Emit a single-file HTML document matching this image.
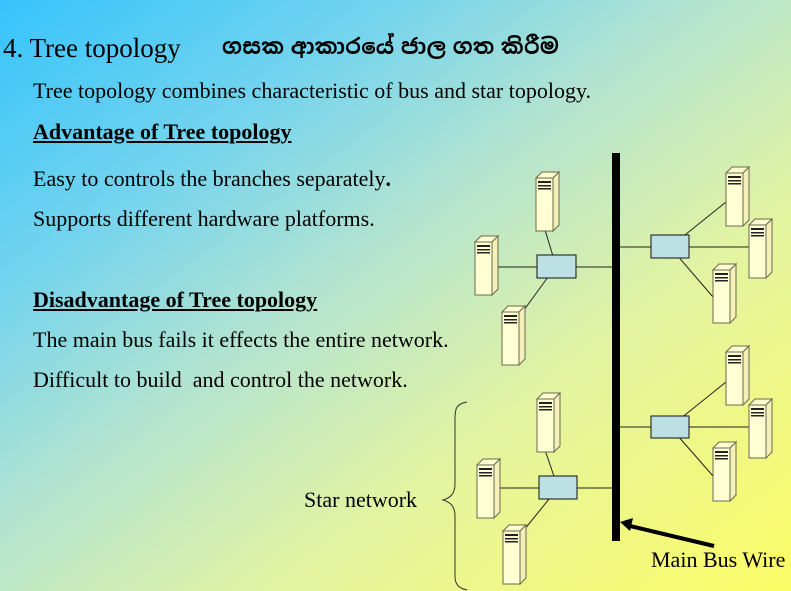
<!DOCTYPE html>
<html><head><meta charset="utf-8"><style>
html,body{margin:0;padding:0}
body{width:791px;height:591px;overflow:hidden;position:relative;background:linear-gradient(to bottom right,#36c4fc 0%,#74d4ee 25%,#b4e4d0 45%,#e4f4a0 68%,#fcfc66 100%);font-family:"Liberation Serif",serif;color:#000}
.t{position:absolute;white-space:nowrap;font-size:22px;line-height:1}
.u{font-weight:bold;text-decoration:underline}
svg{position:absolute;left:0;top:0}
</style></head><body>
<div class="t" style="left:3px;top:35px;font-size:27px">4. Tree topology</div>
<div class="t" style="left:222px;top:37px;font-size:21.5px;font-weight:bold;letter-spacing:0.4px;font-family:'Liberation Sans','Noto Sans Sinhala',sans-serif">ගසක ආකාරයේ ජාල ගත කිරීම</div>
<div class="t" style="left:33px;top:80px">Tree topology combines characteristic of bus and star topology.</div>
<div class="t u" style="left:33px;top:121px">Advantage of Tree topology</div>
<div class="t" style="left:33px;top:168px">Easy to controls the branches separately<b>.</b></div>
<div class="t" style="left:33px;top:208px">Supports different hardware platforms.</div>
<div class="t u" style="left:33px;top:289px">Disadvantage of Tree topology</div>
<div class="t" style="left:33px;top:329px">The main bus fails it effects the entire network.</div>
<div class="t" style="left:33px;top:369px">Difficult to build&nbsp; and control the network.</div>
<div class="t" style="left:304px;top:489px">Star network</div>
<div class="t" style="left:651px;top:549px">Main Bus Wire</div>
<svg width="791" height="591" viewBox="0 0 791 591">
<defs>
<g id="s">
<polygon points="0,6 6,0 23,0 17,6" fill="#fffcd0" stroke="#6a6a50" stroke-width="1"/>
<polygon points="17,6 23,0 23,53 17,59" fill="#f4f0b8" stroke="#6a6a50" stroke-width="1"/>
<rect x="0" y="6" width="17" height="53" fill="#ffffd4" stroke="#6a6a50" stroke-width="1"/>
<rect x="2" y="9" width="13" height="2" fill="#222"/>
<rect x="2" y="13" width="13" height="1.5" fill="#222"/>
<rect x="2" y="16" width="13" height="1.5" fill="#222"/>
</g>
</defs>
<g stroke="#222" stroke-width="1" fill="none">
<line x1="556" y1="266" x2="545" y2="230"/><line x1="497" y1="267" x2="612" y2="267"/><line x1="556" y1="266" x2="524" y2="310"/>
<line x1="620" y1="247" x2="749" y2="247"/><line x1="670" y1="247" x2="726" y2="202"/><line x1="670" y1="247" x2="713" y2="297"/>
<line x1="620" y1="427" x2="749" y2="427"/><line x1="670" y1="427" x2="726" y2="382"/><line x1="670" y1="427" x2="713" y2="476"/>
<line x1="558" y1="488" x2="545" y2="450"/><line x1="498" y1="488" x2="612" y2="488"/><line x1="558" y1="488" x2="524" y2="530"/>
<path d="M467,402 C455,404 455,410 455,420 L455,484 C455,494 450,498 443,500 C450,502 455,506 455,516 L455,576 C455,584 458,588 467,590" stroke="#333"/>
</g>
<use href="#s" x="536" y="172"/>
<use href="#s" x="475" y="236"/>
<use href="#s" x="502" y="306"/>
<use href="#s" x="726" y="167"/>
<use href="#s" x="749" y="219"/>
<use href="#s" x="713" y="264"/>
<use href="#s" x="726" y="346"/>
<use href="#s" x="749" y="399"/>
<use href="#s" x="713" y="442"/>
<use href="#s" x="537" y="393"/>
<use href="#s" x="477" y="459"/>
<use href="#s" x="503" y="525"/>
<rect x="537" y="255" width="39" height="23" fill="#bce0e4" stroke="#111"/>
<rect x="651" y="235" width="38" height="23" fill="#bce0e4" stroke="#111"/>
<rect x="651" y="416" width="38" height="22" fill="#bce0e4" stroke="#111"/>
<rect x="539" y="476" width="38" height="23" fill="#bce0e4" stroke="#111"/>
<rect x="612" y="153" width="8" height="388" fill="#000"/>
<line x1="714" y1="546" x2="630" y2="526" stroke="#000" stroke-width="4"/>
<polygon points="620,522 633,518 630,531" fill="#000"/>
</svg>
</body></html>
